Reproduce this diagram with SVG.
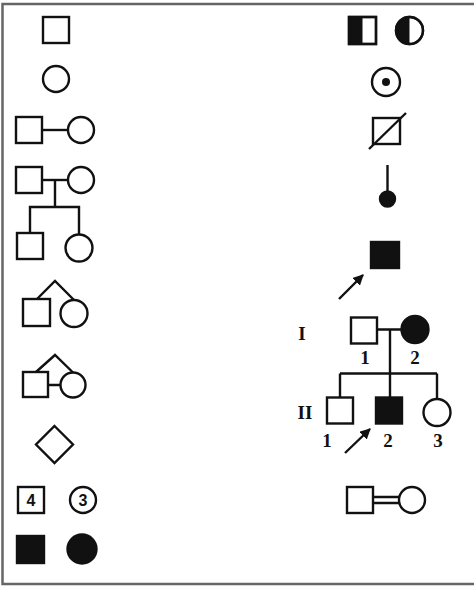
<svg xmlns="http://www.w3.org/2000/svg" width="474" height="590" viewBox="0 0 474 590">
<defs>
<style>
.s{fill:#fff;stroke:#111;stroke-width:2.4}
.f{fill:#111;stroke:#111;stroke-width:2.4}
.l{fill:none;stroke:#111;stroke-width:2.4}
.lab{font-family:"Liberation Serif",serif;font-weight:bold;font-size:19px;fill:#111;text-anchor:middle}
.num{font-family:"Liberation Sans",sans-serif;font-weight:bold;font-size:16px;fill:#111;text-anchor:middle}
.frame{fill:none;stroke:#666;stroke-width:2.5}
</style>
<marker id="ah" viewBox="0 0 10 10" refX="9" refY="5" markerWidth="4.5" markerHeight="4.5" orient="auto">
<path d="M0,0 L10,5 L0,10 z" fill="#111"/>
</marker>
</defs>
<rect width="474" height="590" fill="#fff"/>
<path class="frame" d="M474,4 H2.5 V584 H474"/>

<g id="male"><rect class="s" x="43" y="17" width="26" height="26"/></g>
<g id="female"><circle class="s" cx="56" cy="79" r="13"/></g>
<g id="marriage">
<rect class="s" x="16" y="117" width="26" height="26"/>
<circle class="s" cx="81" cy="130" r="13"/>
</g>
<g id="family">
<rect class="s" x="16" y="167" width="26" height="26"/>
<circle class="s" cx="81" cy="180" r="13"/>
<rect class="s" x="17" y="233" width="26" height="26"/>
<circle class="s" cx="79" cy="248" r="13.5"/>
</g>
<g id="dizygotic">
<rect class="s" x="23" y="299" width="27" height="27"/>
<circle class="s" cx="74" cy="313.5" r="13.5"/>
</g>
<g id="monozygotic">
<rect class="s" x="23" y="372" width="25" height="25"/>
<circle class="s" cx="73" cy="385" r="12.5"/>
</g>
<g id="unknown-sex"><path class="s" d="M54.5,426 L73,444.5 L54.5,463 L36,444.5 z"/></g>
<g id="count-male"><rect class="s" x="18" y="487" width="26" height="26"/><text class="num" x="31" y="506">4</text></g>
<g id="count-female"><circle class="s" cx="83" cy="500" r="13"/><text class="num" x="83" y="506">3</text></g>
<g id="affected">
<rect class="f" x="17" y="536" width="27" height="27"/>
<circle class="f" cx="82" cy="549" r="14.5"/>
</g>

<g id="carrier">
<rect class="s" x="349" y="17" width="27" height="27"/>
<rect x="349" y="17" width="13.5" height="27" fill="#111"/>
<rect class="l" x="349" y="17" width="27" height="27"/>
<circle class="s" cx="409.5" cy="30.5" r="13.5"/>
<path d="M409.5,17 A13.5,13.5 0 0 0 409.5,44 z" fill="#111"/>
<circle class="l" cx="409.5" cy="30.5" r="13.5"/>
</g>
<g id="x-carrier"><circle class="s" cx="386" cy="82" r="14"/><circle cx="386" cy="82" r="4" fill="#111"/></g>
<g id="deceased"><rect class="s" x="373" y="118" width="27" height="26"/><line class="l" x1="369" y1="149" x2="406" y2="113"/></g>
<g id="miscarriage"><line class="l" x1="387.5" y1="165" x2="387.5" y2="192"/><circle class="f" cx="387.5" cy="199" r="7.5"/></g>
<g id="proband"><rect class="f" x="371" y="242" width="28" height="26"/></g>

<g id="gen-I">
<text class="lab" x="302" y="340">I</text>
<rect class="s" x="351" y="317.5" width="26" height="26"/>
<circle class="f" cx="415" cy="329.5" r="13.5"/>
<text class="lab" x="365" y="364">1</text>
<text class="lab" x="415" y="364">2</text>
</g>
<g id="gen-II">
<text class="lab" x="305" y="419">II</text>
<rect class="s" x="327" y="397.5" width="26" height="26"/>
<rect class="f" x="376" y="397.5" width="26" height="26"/>
<circle class="s" cx="437" cy="412.5" r="13.5"/>
<text class="lab" x="327" y="447">1</text>
<text class="lab" x="388" y="447">2</text>
<text class="lab" x="438" y="447">3</text>
</g>
<g id="consanguineous">
<rect class="s" x="347" y="487" width="26" height="26"/>
<circle class="s" cx="412" cy="500" r="13"/>
</g>

<g id="connectors">
<line class="l" x1="42" y1="130" x2="68" y2="130"/>
<line class="l" x1="42" y1="180" x2="68" y2="180"/>
<path class="l" d="M55,180 V207 M30,233 V207 H79 V234.5"/>
<path class="l" d="M37,299 L55,281 L74,300"/>
<path class="l" d="M36,372 L55,355 L73,372.5 M48,385 H60.5"/>
<line class="l" x1="339" y1="299" x2="363" y2="275" marker-end="url(#ah)"/>
<path class="l" d="M377,329.5 H401.5 M390,329.5 V373.5 M340,373.5 H437 M340,373.5 V397.5 M390,373.5 V397.5 M437,373.5 V399"/>
<line class="l" x1="345" y1="453" x2="370" y2="429" marker-end="url(#ah)"/>
<path class="l" d="M373,497 H399 M373,503 H399"/>
</g>
</svg>
